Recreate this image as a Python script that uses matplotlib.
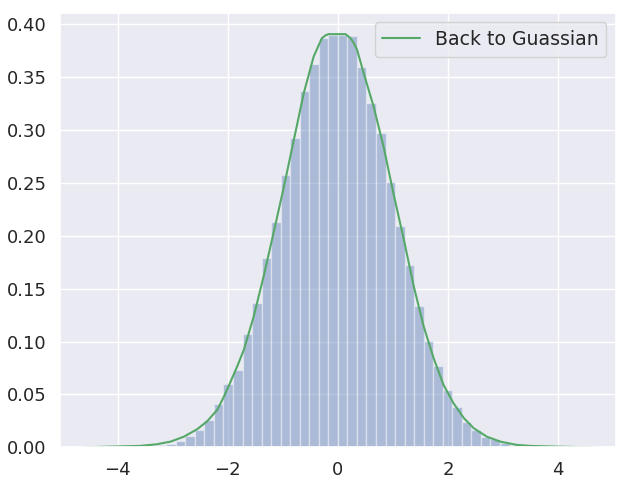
import numpy as np
import matplotlib
matplotlib.use("Agg")
import matplotlib.pyplot as plt
import seaborn as sns

# Histogram: bin width and left edge of the first bin, density heights
bin_width = 0.1733
first_edge = -3.639
hist_heights = [0.0005, 0.001, 0.002, 0.0033, 0.0061, 0.0109, 0.0165, 0.026,
                0.0411, 0.0597, 0.0733, 0.1073, 0.1366, 0.1791, 0.2131, 0.2575,
                0.2928, 0.3370, 0.3623, 0.387, 0.390,
                0.390, 0.3888, 0.359, 0.3256, 0.2973, 0.2507, 0.2094, 0.1725,
                0.1337, 0.1004, 0.077, 0.0543, 0.0383, 0.0241, 0.0165, 0.0099,
                0.0074, 0.0036, 0.002, 0.001, 0.0005]

# KDE curve ("Back to Guassian")
kde_x = [-4.62, -4.0, -3.6, -3.3, -3.04, -2.8, -2.56, -2.38, -2.19, -2.07,
         -1.95, -1.83, -1.71, -1.53, -1.35, -1.17, -0.98, -0.80, -0.62, -0.44,
         -0.34, -0.29, -0.22, -0.17, 0.05, 0.14, 0.23, 0.29, 0.35, 0.47, 0.65,
         0.83, 1.01, 1.20, 1.38, 1.56, 1.74, 1.92, 2.10, 2.29, 2.47, 2.71,
         2.95, 3.25, 3.50, 4.0, 4.63]
kde_y = [0.0, 0.0008, 0.0013, 0.0028, 0.0054, 0.010, 0.017, 0.0244, 0.0355,
         0.048, 0.062, 0.0764, 0.092, 0.1236, 0.1614, 0.2024, 0.2465, 0.2906,
         0.3347, 0.3693, 0.381, 0.3867, 0.3895, 0.3905, 0.3905, 0.3905, 0.3867,
         0.382, 0.3756, 0.3535, 0.322, 0.2843, 0.240, 0.1961, 0.152, 0.1142,
         0.0843, 0.059, 0.0418, 0.0276, 0.018, 0.010, 0.0054, 0.0023, 0.0013,
         0.0006, 0.0]

x_ticks = [-4, -2, 0, 2, 4]
y_ticks = [0.00, 0.05, 0.10, 0.15, 0.20, 0.25, 0.30, 0.35, 0.40]
legend_label = "Back to Guassian"

sns.set_theme(style="darkgrid")
plt.rcParams['font.family'] = ['DejaVu Sans']

fig = plt.figure(figsize=(6.29, 4.83), dpi=100)
ax = fig.add_axes([0.0954, 0.0739, 0.9789 - 0.0954, 0.9731 - 0.0739])

lefts = first_edge + bin_width * np.arange(len(hist_heights))
ax.bar(lefts, hist_heights, width=bin_width, align='edge',
       color='#4C72B0', alpha=0.4, edgecolor='white', linewidth=1.0)
ax.plot(kde_x, kde_y, color='#55A868', linewidth=1.5, label=legend_label)

ax.set_xlim(-5.05, 5.05)
ax.set_ylim(0, 0.4105)
ax.set_xticks(x_ticks)
ax.set_yticks(y_ticks)
ax.set_yticklabels([f"{v:.2f}" for v in y_ticks])
ax.tick_params(labelsize=13.0)
ax.legend(loc='upper right', fontsize=13.6)

fig.savefig("out.png", dpi=100)
